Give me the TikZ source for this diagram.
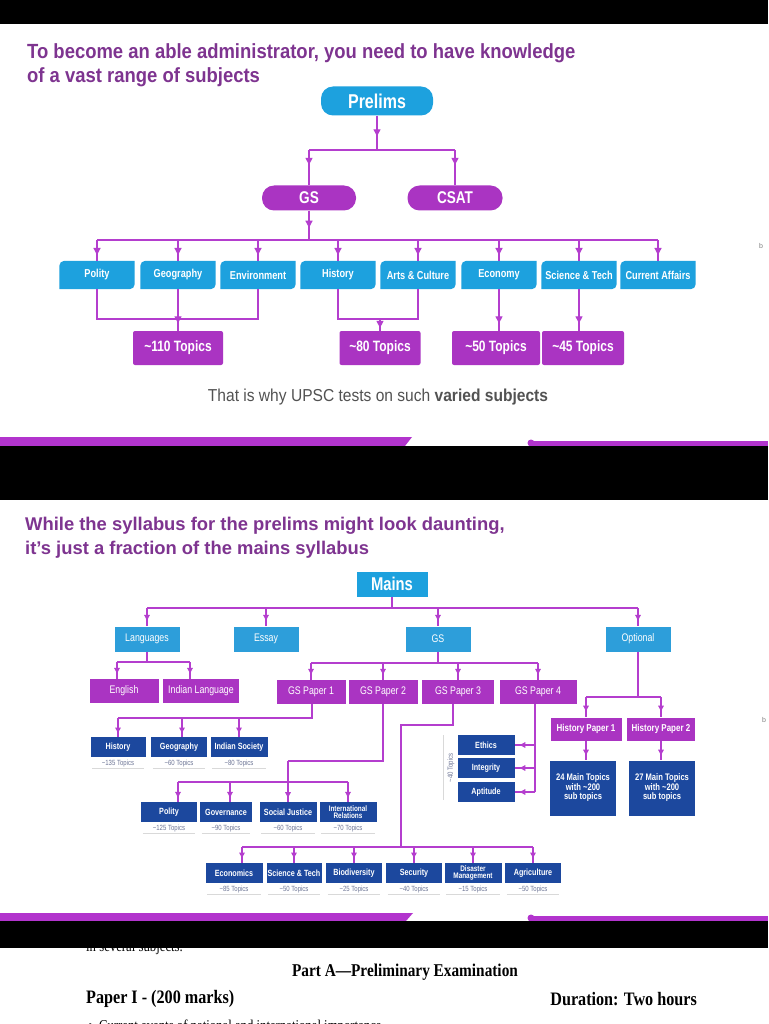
\documentclass[tikz,border=0pt]{standalone}
\usepackage{fontspec}
\setmainfont{Liberation Sans}
\newfontfamily\condfont[FakeStretch=0.8]{Liberation Sans}
\newfontfamily\headfont[FakeStretch=0.9]{Liberation Sans}
\newfontfamily\bookfont[FakeStretch=0.85, Ligatures=TeX]{Liberation Serif}
\usetikzlibrary{positioning, arrows.meta, backgrounds, calc, decorations.markings}
\newcommand\apx{\textasciitilde}
\newcommand\fs[1]{\fontsize{#1}{#1}\selectfont}

\definecolor{ttlpurple}{RGB}{126,52,144}
\definecolor{lnk}{RGB}{180,62,206}
\definecolor{sky}{RGB}{29,161,222}
\definecolor{skylt}{RGB}{45,158,218}
\definecolor{plum}{RGB}{170,52,194}
\definecolor{navy}{RGB}{28,72,158}
\definecolor{cntgray}{RGB}{110,118,150}
\definecolor{bartone}{RGB}{178,52,205}

\tikzset{
  wire/.style={draw=lnk, line width=1.3pt},
  tipat/.style={postaction={decorate}, decoration={markings, mark=at position #1 with {\arrow{Triangle[length=7pt,width=7pt]}}}},
  tipsm/.style={postaction={decorate}, decoration={markings, mark=at position #1 with {\arrow{Triangle[length=5.5pt,width=5.5pt]}}}},
  pill/.style={rounded corners=12pt, text=white, inner sep=0pt, font=\condfont\bfseries\fs{17}},
  subj/.style={text=white, inner sep=0pt, minimum width=75pt, minimum height=28pt, font=\condfont\bfseries\fs{11.5}},
  topics/.style={fill=plum, rounded corners=2pt, text=white, inner sep=0pt, minimum height=34pt, font=\condfont\bfseries\fs{15}},
  mtop/.style={fill=skylt, text=white, inner sep=0pt, minimum width=65pt, minimum height=25pt, font=\condfont\fs{11}},
  paper/.style={fill=plum, text=white, inner sep=0pt, minimum height=24pt, font=\condfont\fs{11}},
  navybox/.style={fill=navy, text=white, inner sep=0pt, minimum height=20pt, align=center, font=\condfont\bfseries\fs{9}},
  cnt/.style={text=cntgray, inner sep=0pt, font=\condfont\fs{7.5}},
  uline/.style={draw=gray!30, line width=0.7pt},
  heading/.style={anchor=west, inner sep=0pt, text=ttlpurple},
}

\begin{document}
\begin{tikzpicture}[x=1pt, y=-1pt]
\useasboundingbox (0,0) rectangle (768,1024);

% ---- panel one: prelims
\node[heading, font=\headfont\bfseries\fs{20.5}] (ttlA) at (27,53) {To become an able administrator, you need to have knowledge};
\node[heading, font=\headfont\bfseries\fs{20.5}] (ttlB) at (27,77) {of a vast range of subjects};

\node[pill, fill=sky, minimum width=112pt, minimum height=29pt, font=\condfont\bfseries\fs{20}] (prelims) at (377,101) {Prelims};
\node[pill, fill=plum, minimum width=94pt, minimum height=25pt] (gs) at (309,198) {GS};
\node[pill, fill=plum, minimum width=95pt, minimum height=25pt] (csat) at (455,198) {CSAT};

\coordinate (pbus) at (377,150);
\draw[wire, tipat=.6] (prelims.south) -- (pbus);
\draw[wire] (gs.north |- pbus) -- (csat.north |- pbus);
\draw[wire, tipat=.42] (gs.north |- pbus) -- (gs.north);
\draw[wire, tipat=.42] (csat.north |- pbus) -- (csat.north);

\node[subj] (polity) at (97,275) {Polity};
\node[subj] (geography) at (178,275) {Geography};
\node[subj] (environment) at (258,275) {Environment};
\node[subj] (history) at (338,275) {History};
\node[subj] (arts) at (418,275) {Arts \& Culture};
\node[subj] (economy) at (499,275) {Economy};
\node[subj] (scitech) at (579,275) {Science \& Tech};
\node[subj] (current) at (658,275) {Current Affairs};

\coordinate (sbus) at (0,240);
\draw[wire, tipat=.58] (gs.south) -- (gs.south |- sbus);
\draw[wire] (polity.north |- sbus) -- (current.north |- sbus);
\foreach \n in {polity,geography,environment,history,arts,economy,scitech,current}
  \draw[wire, tipat=.72] (\n.north |- sbus) -- (\n.north);

\node[topics, minimum width=90pt] (t110) at (178,348) {\apx110 Topics};
\node[topics, minimum width=81pt] (t80) at (380,348) {\apx80 Topics};
\node[topics, minimum width=88pt] (t50) at (496,348) {\apx50 Topics};
\node[topics, minimum width=82pt] (t45) at (583,348) {\apx45 Topics};

\coordinate (tj) at (0,319);
\draw[wire] (polity.south) |- (environment.south |- tj) -- (environment.south);
\draw[wire, tipat=.82] (geography.south) -- (t110.north);
\draw[wire] (history.south) |- (arts.south |- tj) -- (arts.south);
\draw[wire, tipat=.75] (t80.north |- tj) -- (t80.north);
\draw[wire, tipat=.82] (economy.south) -- (economy.south |- t50.north);
\draw[wire, tipat=.82] (scitech.south) -- (scitech.south |- t45.north);

\node[text=black!68, font=\headfont\fs{17.3}] (tagline) at (378,397) {That is why UPSC tests on such \textbf{varied subjects}};
\node[text=gray, font=\fs{7}] (markA) at (761,246) {b};

% ---- panel two: mains
\node[heading, font=\bfseries\fs{18.4}] (ttlC) at (25,526) {While the syllabus for the prelims might look daunting,};
\node[heading, font=\bfseries\fs{18.4}] (ttlD) at (25,550) {it's just a fraction of the mains syllabus};

\node[fill=sky, text=white, inner sep=0pt, minimum width=71pt, minimum height=25pt, font=\condfont\bfseries\fs{18.5}] (mains) at (392,584) {Mains};
\node[mtop] (languages) at (147,639) {Languages};
\node[mtop] (essay) at (266,639) {Essay};
\node[mtop] (gsm) at (438,639) {GS};
\node[mtop] (optional) at (638,639) {Optional};

\coordinate (mbus) at (0,608);
\draw[wire] (mains.south) -- (mains.south |- mbus);
\draw[wire] (languages.north |- mbus) -- (optional.north |- mbus);
\foreach \n in {languages,essay,gsm,optional}
  \draw[wire, tipsm=.68] (\n.north |- mbus) -- (\n.north);

\node[paper, minimum width=69pt] (english) at (124,691) {English};
\node[paper, minimum width=76pt] (indlang) at (201,691) {Indian Language};
\node[paper, minimum width=69pt] (gsp1) at (311,692) {GS Paper 1};
\node[paper, minimum width=69pt] (gsp2) at (383,692) {GS Paper 2};
\node[paper, minimum width=72pt] (gsp3) at (458,692) {GS Paper 3};
\node[paper, minimum width=77pt] (gsp4) at (538,692) {GS Paper 4};
\node[paper, minimum width=71pt, minimum height=23pt, font=\condfont\bfseries\fs{10}] (hp1) at (586,729) {History Paper 1};
\node[paper, minimum width=68pt, minimum height=23pt, font=\condfont\bfseries\fs{10}] (hp2) at (661,729) {History Paper 2};

\coordinate (lbus) at (0,662);
\draw[wire] (languages.south) -- (languages.south |- lbus);
\draw[wire] ([xshift=-7pt]english.north |- lbus) -- ([xshift=-11pt]indlang.north |- lbus);
\draw[wire, tipsm=.68] ([xshift=-7pt]english.north |- lbus) -- ([xshift=-7pt]english.north);
\draw[wire, tipsm=.68] ([xshift=-11pt]indlang.north |- lbus) -- ([xshift=-11pt]indlang.north);

\coordinate (gbus) at (0,663);
\draw[wire] (gsm.south) -- (gsm.south |- gbus);
\draw[wire] (gsp1.north |- gbus) -- (gsp4.north |- gbus);
\foreach \n in {gsp1,gsp2,gsp3,gsp4}
  \draw[wire, tipsm=.68] (\n.north |- gbus) -- (\n.north);

\coordinate (obus) at (0,697);
\draw[wire] (optional.south) -- (optional.south |- obus);
\draw[wire] (hp1.north |- obus) -- (hp2.north |- obus);
\draw[wire, tipsm=.7] (hp1.north |- obus) -- (hp1.north);
\draw[wire, tipsm=.7] (hp2.north |- obus) -- (hp2.north);

\node[navybox, minimum width=66pt, minimum height=55pt, font=\condfont\bfseries\fs{9.5}] (m24) at (583,788) {24 Main Topics\\with \apx200\\sub topics};
\node[navybox, minimum width=66pt, minimum height=55pt, font=\condfont\bfseries\fs{9.5}] (m27) at (662,788) {27 Main Topics\\with \apx200\\sub topics};
\draw[wire, tipsm=.74] (hp1.south) -- (hp1.south |- m24.north);
\draw[wire, tipsm=.74] (hp2.south) -- (hp2.south |- m27.north);
\node[text=gray, font=\fs{7}] (markB) at (764,720) {b};

% GS paper 1
\node[navybox, minimum width=55pt] (hist) at (118,747) {History};
\node[navybox, minimum width=56pt] (geog) at (179,747) {Geography};
\node[navybox, minimum width=57pt] (insoc) at (239,747) {Indian Society};
\node[cnt, below=2.5pt of hist] (c-hist) {\apx135 Topics};
\node[cnt, below=2.5pt of geog] (c-geog) {\apx60 Topics};
\node[cnt, below=2.5pt of insoc] (c-insoc) {\apx80 Topics};
\coordinate (b1) at (0,718);
\draw[wire] ([xshift=1pt]gsp1.south) |- (hist.north |- b1);
\draw[wire, tipsm=.8] (hist.north |- b1) -- (hist.north);
\draw[wire, tipsm=.8] ([xshift=3pt]geog.north |- b1) -- ([xshift=3pt]geog.north);
\draw[wire, tipsm=.8] (insoc.north |- b1) -- (insoc.north);

% GS paper 2
\node[navybox, minimum width=56pt] (polm) at (169,812) {Polity};
\node[navybox, minimum width=52pt] (gov) at (226,812) {Governance};
\node[navybox, minimum width=57pt] (socj) at (288,812) {Social Justice};
\node[navybox, minimum width=57pt, font=\condfont\bfseries\fs{8}] (intrel) at (348,812) {International\\[-1.5pt]Relations};
\node[cnt, below=2.5pt of polm] (c-polm) {\apx125 Topics};
\node[cnt, below=2.5pt of gov] (c-gov) {\apx90 Topics};
\node[cnt, below=2.5pt of socj] (c-socj) {\apx60 Topics};
\node[cnt, below=2.5pt of intrel] (c-intrel) {\apx70 Topics};
\coordinate (j2) at (288,761);
\coordinate (b2) at (0,782);
\draw[wire] (gsp2.south) |- (j2);
\draw[wire, tipsm=.9] (j2) -- (socj.north);
\draw[wire] ([xshift=9pt]polm.north |- b2) -- (intrel.north |- b2);
\draw[wire, tipsm=.78] ([xshift=9pt]polm.north |- b2) -- ([xshift=9pt]polm.north);
\draw[wire, tipsm=.78] ([xshift=4pt]gov.north |- b2) -- ([xshift=4pt]gov.north);
\draw[wire, tipsm=.78] (intrel.north |- b2) -- (intrel.north);

% GS paper 3
\node[navybox, minimum width=57pt] (econ) at (234,873) {Economics};
\node[navybox, minimum width=55pt] (scit) at (294,873) {Science \& Tech};
\node[navybox, minimum width=56pt] (biod) at (354,873) {Biodiversity};
\node[navybox, minimum width=56pt] (secu) at (414,873) {Security};
\node[navybox, minimum width=57pt, font=\condfont\bfseries\fs{8}] (disas) at (473,873) {Disaster\\[-1.5pt]Management};
\node[navybox, minimum width=56pt] (agri) at (533,873) {Agriculture};
\node[cnt, below=2.5pt of econ] (c-econ) {\apx85 Topics};
\node[cnt, below=2.5pt of scit] (c-scit) {\apx50 Topics};
\node[cnt, below=2.5pt of biod] (c-biod) {\apx25 Topics};
\node[cnt, below=2.5pt of secu] (c-secu) {\apx40 Topics};
\node[cnt, below=2.5pt of disas] (c-disas) {\apx15 Topics};
\node[cnt, below=2.5pt of agri] (c-agri) {\apx50 Topics};
\coordinate (j3) at (401,725);
\coordinate (b3) at (0,847);
\draw[wire] ([xshift=-5pt]gsp3.south) |- (j3) -- (j3 |- b3);
\draw[wire] ([xshift=8pt]econ.north |- b3) -- (agri.north |- b3);
\draw[wire, tipsm=.7] ([xshift=8pt]econ.north |- b3) -- ([xshift=8pt]econ.north);
\foreach \n in {scit,biod,secu,disas,agri}
  \draw[wire, tipsm=.7] (\n.north |- b3) -- (\n.north);

% GS paper 4
\node[navybox, minimum width=57pt] (ethics) at (486,745) {Ethics};
\node[navybox, minimum width=57pt] (integ) at (486,768) {Integrity};
\node[navybox, minimum width=57pt] (apti) at (486,792) {Aptitude};
\draw[wire] ([xshift=-3pt]gsp4.south) -- ([xshift=-3pt]gsp4.south |- apti.east);
\foreach \n in {ethics,integ,apti}
  \draw[wire, tipsm=.75] ([xshift=-3pt]gsp4.south |- \n.east) -- (\n.east);
\node[cnt, rotate=90] (c-gs4) at (451,768) {\apx40 Topics};
\draw[uline] (443,735) -- (443,800);

\foreach \n in {hist,geog,insoc,polm,gov,socj,intrel,econ,scit,biod,secu,disas,agri}
  \draw[uline] ([xshift=2pt,yshift=-11pt]\n.south west) -- ([xshift=-2pt,yshift=-11pt]\n.south east);

% ---- printed syllabus below
\node[anchor=base west, inner sep=0pt, font=\bookfont\fs{15}] (prev) at (86,951.5) {in several subjects.};
\node[font=\bookfont\bfseries\fs{18}, inner sep=0pt] (parta) at (405,972) {Part A—Preliminary Examination};
\node[anchor=west, font=\bookfont\bfseries\fs{19}, inner sep=0pt] (paperone) at (86,999) {Paper I - (200 marks)};
\node[anchor=east, font=\bookfont\bfseries\fs{19}, inner sep=0pt] (duration) at (697,999) {Duration: Two hours};
\node[anchor=base west, inner sep=0pt, font=\bookfont\fs{15}] (nextline) at (88,1030) {\textbullet\ \ Current events of national and international importance.};

% ---- bars and bands
\fill[bartone] (0,437) -- (412,437) -- (405,446) -- (0,446) -- cycle;
\fill[bartone] (530,441) rectangle (768,446);
\fill[bartone] (531,443) circle (3.5pt);
\fill[bartone] (0,913) -- (413,913) -- (406,921) -- (0,921) -- cycle;
\fill[bartone] (530,916) rectangle (768,921);
\fill[bartone] (531,918) circle (3.5pt);
\fill[black] (0,0) rectangle (768,24);
\fill[black] (0,446) rectangle (768,500);
\fill[black] (0,921) rectangle (768,948);

\begin{scope}[on background layer]
\fill[white] (0,0) rectangle (768,1024);
\foreach \n in {polity,geography,environment,history,arts,economy,scitech,current}
  \fill[sky] ([yshift=-5pt]\n.north west) arc[start angle=180, end angle=90, radius=5pt] -- (\n.north east) -- ([yshift=5pt]\n.south east) arc[start angle=0, end angle=-90, radius=5pt] -- (\n.south west) -- cycle;
\end{scope}
\end{tikzpicture}
\end{document}
